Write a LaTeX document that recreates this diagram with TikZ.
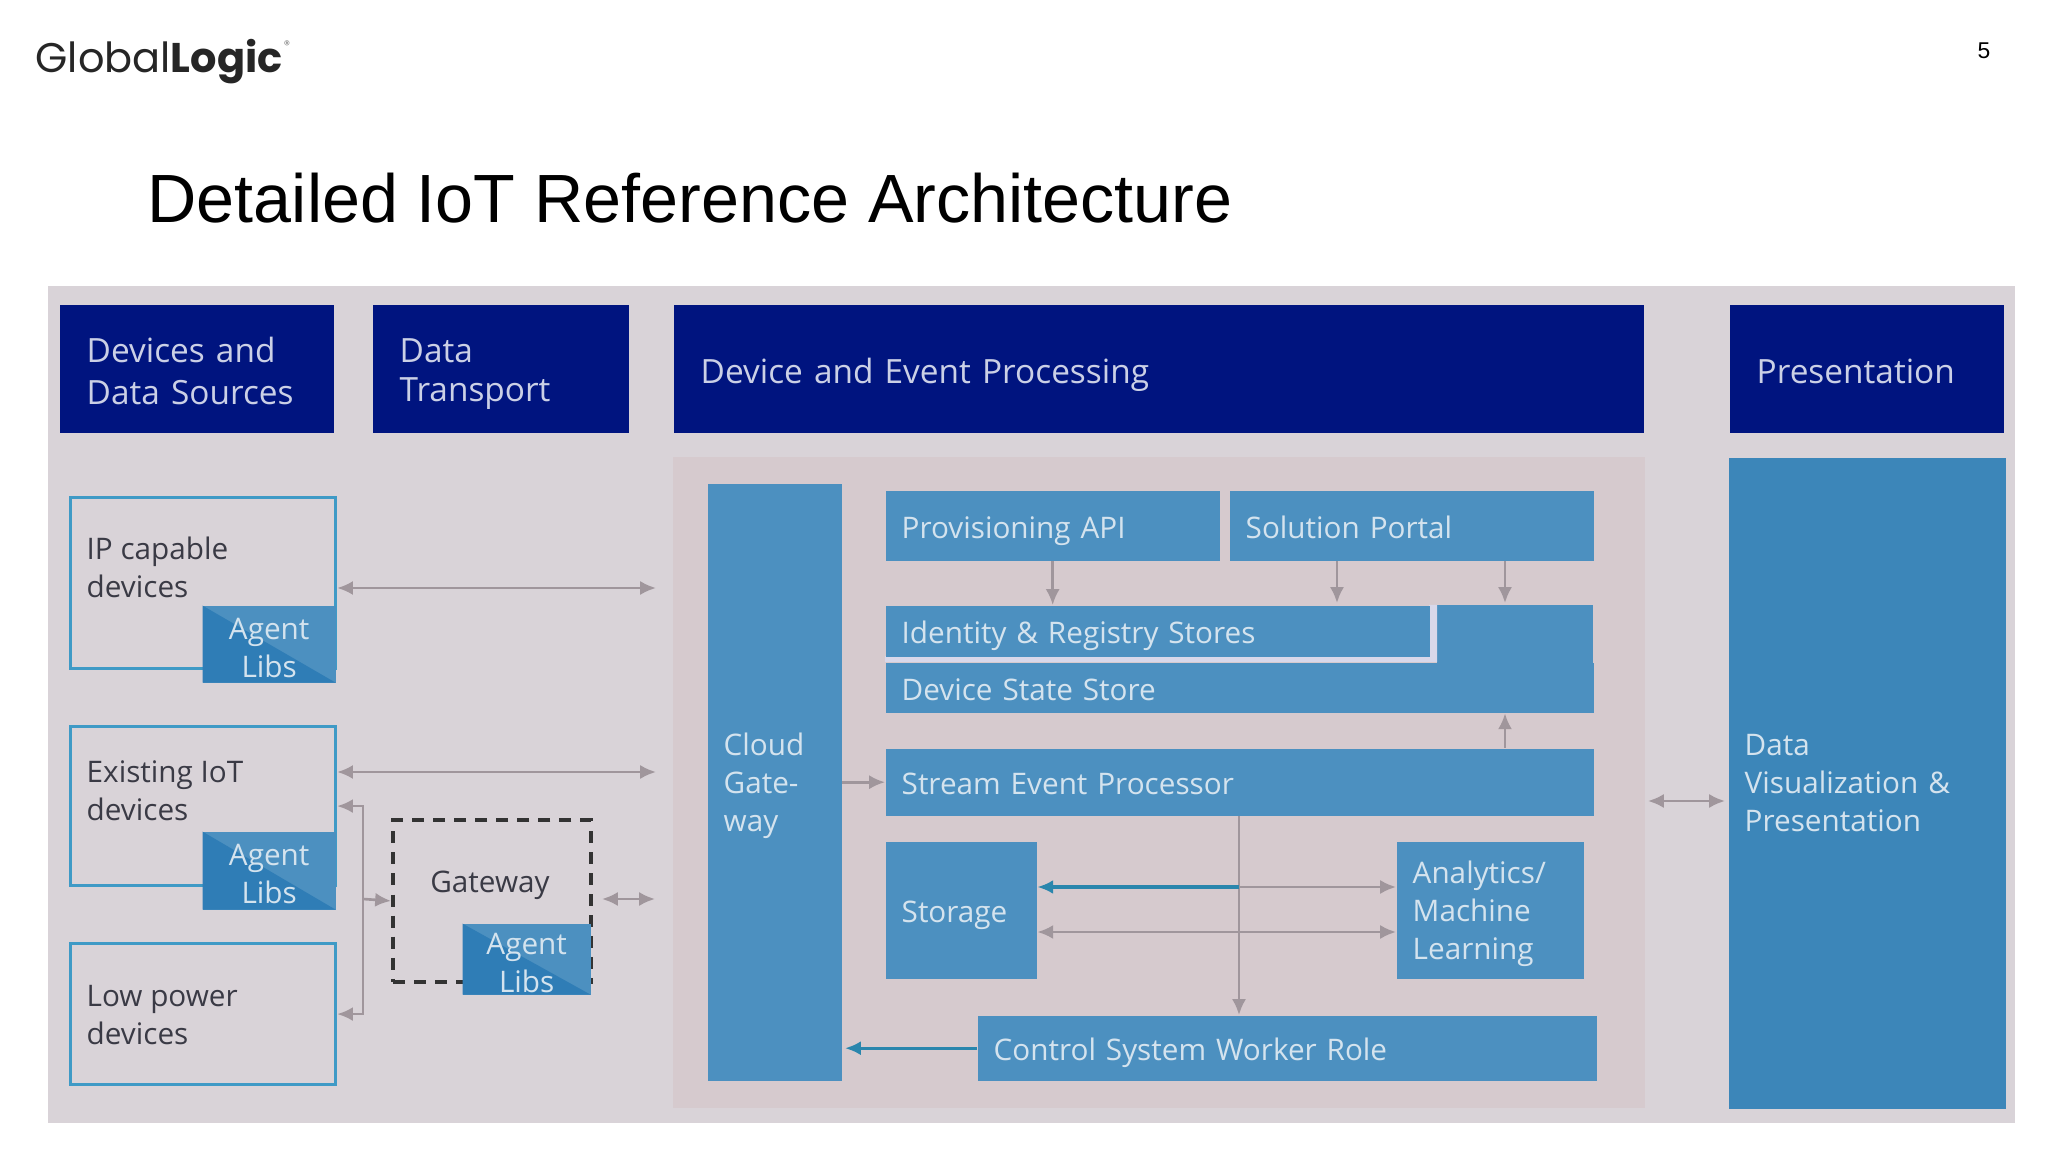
\documentclass[tikz,border=0pt]{standalone}
\usepackage{fontspec}
\setmainfont{Liberation Sans}
\newfontfamily\diagfont{Open Sans}
\newfontfamily\logofont{Poppins}
\usepackage{tikz}
\usetikzlibrary{arrows.meta}
\definecolor{slidebg}{HTML}{D9D3D8}
\definecolor{panelbg}{HTML}{D6CACE}
\definecolor{headblue}{HTML}{00147F}
\definecolor{headtext}{HTML}{CBD0E6}
\definecolor{boxblue}{HTML}{4C90C0}
\definecolor{boxdark}{HTML}{2F7DB6}
\definecolor{vizblue}{HTML}{3C86B9}
\definecolor{boxtext}{HTML}{D4E3EE}
\definecolor{gapline}{HTML}{D8D8EA}
\definecolor{devline}{HTML}{3F9AC6}
\definecolor{darktext}{HTML}{3A3A45}
\definecolor{flowgray}{HTML}{A0969C}
\definecolor{flowteal}{HTML}{2A86AD}

\begin{document}
\begin{tikzpicture}
\tikzstyle{sized}=[anchor=north west, inner xsep=0pt, inner ysep=0pt]
\tikzstyle{head}=[sized, fill=headblue, text=headtext, align=left, inner xsep=0.27cm, font=\diagfont\fontsize{9.5}{12}\selectfont]
\tikzstyle{block}=[sized, fill=boxblue, text=boxtext, align=left, inner xsep=0.16cm, font=\diagfont\fontsize{8.45}{10.8}\selectfont]
\tikzstyle{oneline}=[text height=8pt, text depth=1pt]
\tikzstyle{headline}=[text height=9.3pt, text depth=1pt]
\tikzstyle{toprule}=[execute at begin node={\rule{0pt}{#1}}]
\tikzstyle{devbox}=[sized, draw=devline, line width=0.9pt]
\tikzstyle{devtext}=[anchor=west, inner sep=0pt, text=darktext, align=left, font=\diagfont\fontsize{8.45}{10.8}\selectfont]
\tikzstyle{agent}=[sized, fill=boxblue, text=boxtext, align=center, toprule=8pt, font=\diagfont\fontsize{8.45}{10.8}\selectfont,
  path picture={\fill[boxdark] (path picture bounding box.north west) -- (path picture bounding box.south east) -- (path picture bounding box.south west) -- cycle;}]
\tikzstyle{flow}=[draw=flowgray, line width=0.75pt, -{Latex[length=4.5pt,width=4pt]}]
\tikzstyle{twoway}=[flow, {Latex[length=4.5pt,width=4pt]}-{Latex[length=4.5pt,width=4pt]}]
\tikzstyle{tealflow}=[draw=flowteal, line width=0.9pt, -{Latex[length=4.5pt,width=4pt]}]

\useasboundingbox (0,0) rectangle (20.48,-11.52);

% backgrounds
\fill[slidebg] (0.48,-2.86) rectangle (20.15,-11.23);
\fill[panelbg] (6.73,-4.57) rectangle (16.45,-11.08);

% slide furniture
\draw (0.35,-0.62) node[anchor=west, inner sep=0pt, text=black!85, font=\logofont\fontsize{11.8}{14}\selectfont] (logo) {Global\textbf{Logic}};
\draw (2.87,-0.45) node[inner sep=0pt, text=gray, font=\logofont\fontsize{3.5}{4}\selectfont] (regmark) {®};
\draw (19.84,-0.51) node[inner sep=0pt, font=\fontsize{6.5}{8}\selectfont] (pagenum) {5};
\draw (1.47,-1.98) node[anchor=west, inner sep=0pt, font=\fontsize{19.42}{23}\selectfont] (title) {Detailed IoT Reference Architecture};

% column headers
\draw (0.59,-3.04) node[head, toprule=8.7pt, minimum width=2.74cm, minimum height=1.28cm, text width=2.20cm] (devhead) {Devices and\\Data Sources};
\draw (3.72,-3.04) node[head, toprule=9.8pt, font=\diagfont\fontsize{9.5}{11.2}\selectfont, minimum width=2.56cm, minimum height=1.28cm, text width=2.02cm] (transhead) {Data\\Transport};
\draw (6.73,-3.04) node[head, headline, minimum width=9.70cm, minimum height=1.28cm, text width=9.16cm] (prochead) {Device and Event Processing};
\draw (17.29,-3.04) node[head, headline, minimum width=2.74cm, minimum height=1.28cm, text width=2.20cm] (prehead) {Presentation};

% devices
\draw (0.69,-4.96) node[devbox, minimum width=2.65cm, minimum height=1.71cm] (ipdev) {};
\draw (0.86,-5.67) node[devtext] (iptext) {IP capable\\devices};
\draw (2.02,-6.05) node[agent, minimum width=1.33cm, minimum height=0.77cm, text width=1.33cm] (ipagent) {Agent\\Libs};
\draw (0.69,-7.25) node[devbox, minimum width=2.65cm, minimum height=1.59cm] (existdev) {};
\draw (0.86,-7.91) node[devtext] (existtext) {Existing IoT\\devices};
\draw (2.02,-8.31) node[agent, minimum width=1.33cm, minimum height=0.78cm, text width=1.33cm] (existagent) {Agent\\Libs};
\draw (0.69,-9.42) node[devbox, minimum width=2.65cm, minimum height=1.41cm] (lowdev) {};
\draw (0.86,-10.15) node[devtext] (lowtext) {Low power\\devices};

% gateway
\draw (3.91,-8.18) node[sized, draw=black!80, line width=1.1pt, dash pattern=on 3.4pt off 2.6pt, minimum width=1.98cm, minimum height=1.62cm] (gateway) {};
\draw (4.90,-8.85) node[inner sep=0pt, text=darktext, font=\diagfont\fontsize{8.45}{10.8}\selectfont] (gatetext) {Gateway};
\draw (4.62,-9.23) node[agent, minimum width=1.28cm, minimum height=0.71cm, text width=1.28cm] (gateagent) {Agent\\Libs};

% processing blocks
\draw (7.07,-4.83) node[block, toprule=8.3pt, minimum width=1.34cm, minimum height=5.97cm, text width=1.02cm] (cloud) {Cloud\\Gate-\\way};
\draw (8.85,-4.90) node[block, oneline, minimum width=3.34cm, minimum height=0.70cm, text width=3.02cm] (prov) {Provisioning API};
\draw (12.29,-4.90) node[block, oneline, minimum width=3.64cm, minimum height=0.70cm, text width=3.32cm] (portal) {Solution Portal};
\fill[boxblue] (14.37,-6.05) rectangle (15.93,-6.70);
\fill[gapline] (8.85,-6.56) -- (14.29,-6.56) -- (14.29,-6.05) -- (14.37,-6.05) -- (14.37,-6.62) -- (8.85,-6.62) -- cycle;
\draw (8.85,-6.05) node[block, oneline, minimum width=5.44cm, minimum height=0.51cm, text width=5.12cm] (identity) {Identity \& Registry Stores};
\draw (8.85,-6.62) node[block, oneline, minimum width=7.08cm, minimum height=0.50cm, text width=6.76cm] (dstate) {Device State Store};
\draw (8.85,-7.48) node[block, oneline, minimum width=7.08cm, minimum height=0.67cm, text width=6.76cm] (stream) {Stream Event Processor};
\draw (8.85,-8.41) node[block, oneline, minimum width=1.51cm, minimum height=1.37cm, text width=1.19cm] (storage) {Storage};
\draw (13.96,-8.41) node[block, toprule=8.6pt, minimum width=1.87cm, minimum height=1.37cm, text width=1.55cm] (analytics) {Analytics/\\Machine\\Learning};
\draw (9.77,-10.15) node[block, oneline, minimum width=6.19cm, minimum height=0.65cm, text width=5.87cm] (control) {Control System Worker Role};
\draw (17.28,-4.57) node[block, fill=vizblue, minimum width=2.77cm, minimum height=6.51cm, text width=2.45cm] (dataviz) {Data\\Visualization \&\\Presentation};

% free ends and bends
\coordinate (ipend) at (6.56,-5.88);
\coordinate (existend) at (6.56,-7.72);
\coordinate (bus) at (3.63,-8.99);
\coordinate (gatestart) at (6.02,-8.99);
\coordinate (gateend) at (6.55,-8.99);
\coordinate (portalleft) at (13.37,-6.03);
\coordinate (portalright) at (15.05,-6.03);
\coordinate (vline) at (12.39,-8.87);
\coordinate (lowline) at (12.39,-9.32);
\coordinate (preleft) at (16.48,-8.01);
\coordinate (preright) at (17.25,-8.01);
\coordinate (ctrlend) at (8.45,-10.47);

% device side
\draw[twoway] (ipdev.east |- ipend) -- (ipend);
\draw[twoway] (existdev.east |- existend) -- (existend);
\draw[twoway] (existdev.east) -- (existdev.east -| bus) -- (lowdev.east -| bus) -- (lowdev.east);
\draw[flow] (bus) -- (gateway.west);
\draw[twoway] (gatestart) -- (gateend);

% processing side
\draw[flow] (prov.south) -- (prov.south |- identity.north);
\draw[flow] (portal.south -| portalleft) -- (portalleft);
\draw[flow] (portal.south -| portalright) -- (portalright);
\draw[flow] (stream.north -| portalright) -- (dstate.south -| portalright);
\draw[flow] (cloud.east |- stream.west) -- (stream.west);
\draw[flow] (stream.south -| vline) -- (control.north -| vline);
\draw[tealflow] (vline) -- (storage.east |- vline);
\draw[flow] (vline) -- (analytics.west |- vline);
\draw[twoway] (storage.east |- lowline) -- (analytics.west |- lowline);
\draw[tealflow] (control.west) -- (ctrlend |- control.west);
\draw[twoway] (preleft) -- (preright);
\end{tikzpicture}
\end{document}
